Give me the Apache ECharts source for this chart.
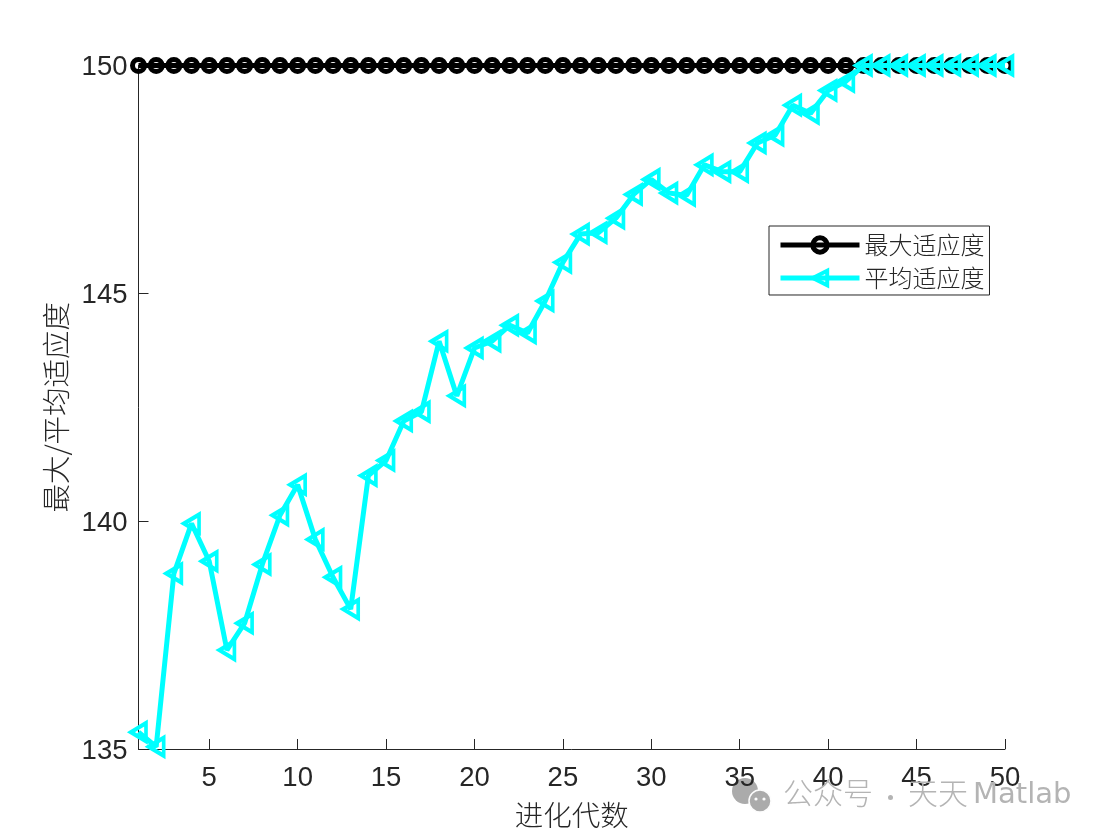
<!DOCTYPE html>
<html><head><meta charset="utf-8">
<style>html,body{margin:0;padding:0;background:#fff}#c{width:1107px;height:839px}</style>
<script src="https://cdn.jsdelivr.net/npm/echarts@6/dist/echarts.min.js"></script>
</head><body><div id="c"></div>
<script>
const generations = [1,2,3,4,5,6,7,8,9,10,11,12,13,14,15,16,17,18,19,20,21,22,23,24,25,26,27,28,29,30,31,32,33,34,35,36,37,38,39,40,41,42,43,44,45,46,47,48,49,50];
const maxFitness = [150,150,150,150,150,150,150,150,150,150,150,150,150,150,150,150,150,150,150,150,150,150,150,150,150,150,150,150,150,150,150,150,150,150,150,150,150,150,150,150,150,150,150,150,150,150,150,150,150,150];
const avgFitness = [135.37,135.05,138.85,139.95,139.12,137.17,137.76,139.05,140.13,140.8,139.6,138.77,138.07,141.0,141.33,142.2,142.4,143.95,142.75,143.8,143.95,144.3,144.13,144.83,145.68,146.3,146.33,146.65,147.17,147.5,147.2,147.15,147.82,147.67,147.67,148.3,148.47,149.13,148.95,149.45,149.65,150,150,150,150,150,150,150,150,150];
const xTicks = [5,10,15,20,25,30,35,40,45,50];
const seriesNames = ['最大适应度','平均适应度'];
const xName = '进化代数', yName = '最大/平均适应度';
const pair = a => generations.map((g,i)=>[g,a[i]]);
const cjk = '"Noto Sans CJK SC"';
const textCol = '#262626';
const chart = echarts.init(document.getElementById('c'));
chart.setOption({
  animation:false,
  backgroundColor:'#ffffff',
  grid:{left:138.5,right:102,top:65.5,bottom:90,containLabel:false},
  legend:{
    left:769,top:226,orient:'vertical',
    data:[
      {name:seriesNames[0],itemStyle:{borderWidth:5},lineStyle:{width:5}},
      {name:seriesNames[1],itemStyle:{borderWidth:4},lineStyle:{width:5}}
    ],
    backgroundColor:'#fff',borderColor:'#262626',borderWidth:1,
    padding:[7,5,5,9],itemGap:9,itemWidth:79,itemHeight:18,
    textStyle:{fontFamily:cjk,fontSize:24,color:textCol,fontWeight:300}
  },
  xAxis:{
    type:'value',min:1,max:50,
    name:xName,nameLocation:'middle',nameGap:52,
    nameTextStyle:{fontFamily:cjk,fontSize:28.5,color:textCol,fontWeight:300},
    splitLine:{show:false},
    axisLine:{show:true,onZero:false,lineStyle:{color:textCol,width:1}},
    axisTick:{show:true,inside:true,length:10,customValues:xTicks,lineStyle:{color:textCol,width:1}},
    axisLabel:{customValues:xTicks,fontFamily:'"Liberation Sans"',fontSize:27.5,color:textCol,margin:15}
  },
  yAxis:{
    type:'value',min:135,max:150,interval:5,
    name:yName,nameLocation:'middle',nameGap:67,
    nameTextStyle:{fontFamily:cjk,fontSize:28.5,color:textCol,fontWeight:300},
    splitLine:{show:false},
    axisLine:{show:true,onZero:false,lineStyle:{color:textCol,width:1}},
    axisTick:{show:true,inside:true,length:10,lineStyle:{color:textCol,width:1}},
    axisLabel:{margin:11,formatter:'{t|{value}}',
      rich:{t:{fontFamily:'"Liberation Sans"',fontSize:27.5,color:textCol,padding:[4,0,0,0]}}}
  },
  series:[
    {name:seriesNames[0],type:'line',data:pair(maxFitness),clip:false,z:3,
     symbol:'circle',symbolSize:12,showAllSymbol:true,
     lineStyle:{color:'#000',width:5},
     itemStyle:{color:'rgba(255,255,255,0)',borderColor:'#000',borderWidth:5,opacity:1}},
    {name:seriesNames[1],type:'line',data:pair(avgFitness),clip:false,z:4,
     symbol:'triangle',symbolRotate:90,symbolSize:[18,15],showAllSymbol:true,
     lineStyle:{color:'#00ffff',width:5},
     itemStyle:{color:'rgba(255,255,255,0)',borderColor:'#00ffff',borderWidth:4,opacity:1}}
  ],
  graphic:[
    {type:'group',left:732,top:778,z:100,silent:true,children:[
      {type:'circle',shape:{cx:14,cy:13,r:13},style:{fill:'#ababab'}},
      {type:'circle',shape:{cx:29,cy:23,r:11},style:{fill:'#ababab',stroke:'#fdfdfd',lineWidth:1.5}},
      {type:'circle',shape:{cx:25,cy:21,r:1.6},style:{fill:'#fdfdfd'}},
      {type:'circle',shape:{cx:33,cy:21,r:1.6},style:{fill:'#fdfdfd'}}
    ]},
    {type:'text',left:783,top:778,z:100,silent:true,
     style:{text:'公众号',fill:'#b4b4b4',font:'300 30px "Noto Sans CJK SC"'}},
    {type:'circle',left:888,top:795,z:100,silent:true,shape:{r:2.5},style:{fill:'#b4b4b4'}},
    {type:'text',left:908,top:778,z:100,silent:true,
     style:{text:'天天',fill:'#b4b4b4',font:'300 30px "Noto Sans CJK SC"'}},
    {type:'text',left:973,top:781,z:100,silent:true,
     style:{text:'Matlab',fill:'#b4b4b4',font:'29px "DejaVu Sans"'}}
  ]
});
</script></body></html>
